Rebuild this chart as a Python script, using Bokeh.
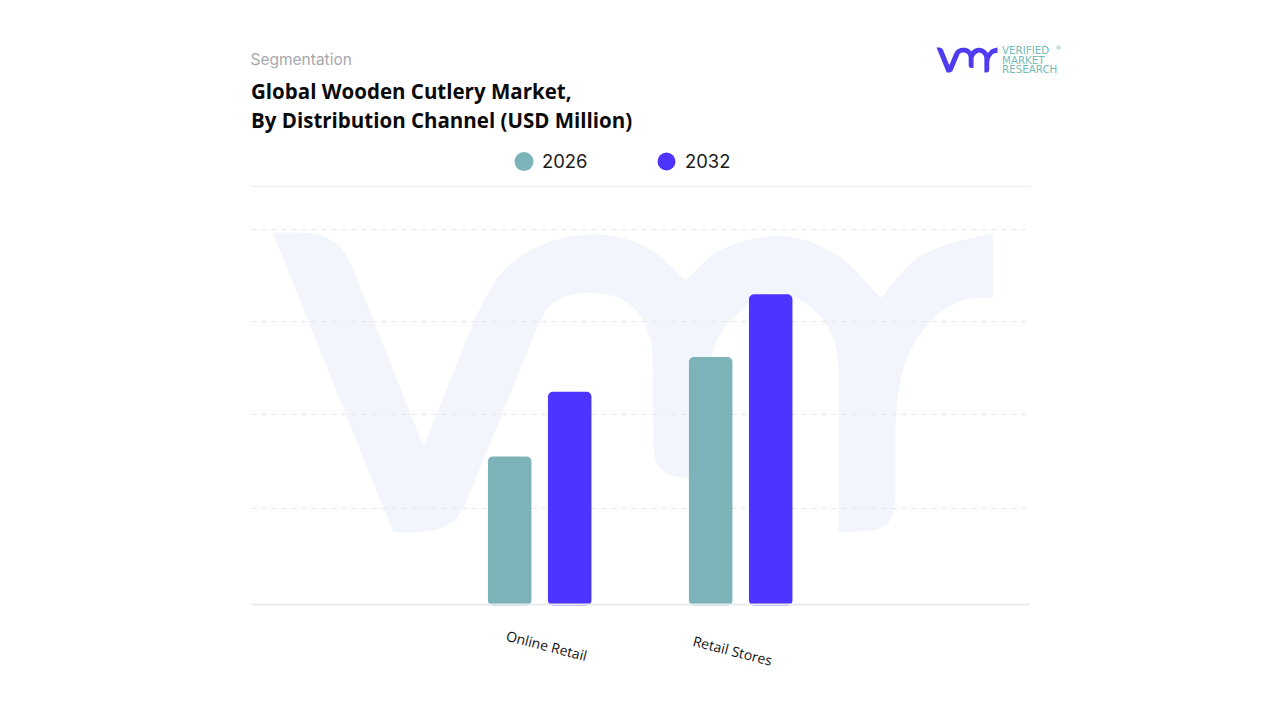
import math

from bokeh.core.properties import value
from bokeh.embed import file_html
from bokeh.resources import INLINE
from bokeh.layouts import column
from bokeh.models import ColumnDataSource, FixedTicker, LinearAxis, Range1d
from bokeh.plotting import figure

# ---- chart content
categories = ["Online Retail", "Retail Stores"]
series_names = ["2026", "2032"]
values_2026 = [158, 264]
values_2032 = [227, 331]
y_ticks = [102.4, 202.7, 301.9, 400]
heading = "Segmentation"
title_lines = ["Global Wooden Cutlery Market,", "By Distribution Channel (USD Million)"]
logo_lines = ["VERIFIED", "MARKET", "RESEARCH"]

# ---- style
TEAL = "#7bb3b8"
BLUE = "#4d35ff"
LOGO_BLUE = "#4f3bf0"
LOGO_TEAL = "#72bdb9"
WATERMARK = "#f3f5fc"
FRAME_L, FRAME_R, FRAME_T, FRAME_B = 251, 1029, 186, 604
PAGE_W, PAGE_H = 1280, 720
GROUP_0, GROUP_STEP = 539.2, 201.0
BAR_PX = 43.5
PX_PER_VALUE = 0.9375

# outline of the vmr brand mark, in its own drawing units; a doubled point is a sharp corner
BRAND_OUTLINE = [
    (272, 232), (272, 232), (317, 232), (340, 245), (350, 262), (423, 446), (423, 446),
    (477, 312), (497, 275), (523, 252), (560, 237), (593, 233), (623, 237), (645, 246),
    (663, 258), (685, 280), (685, 280), (713, 252), (743, 240), (777, 234), (810, 240),
    (843, 258), (863, 278), (880, 298), (880, 298), (913, 258), (950, 242), (993, 233),
    (993, 233), (993, 297), (993, 297), (963, 298), (937, 312), (913, 342), (900, 375),
    (895, 415), (895, 502), (890, 522), (877, 530), (838, 532), (838, 532), (838, 355),
    (830, 328), (810, 305), (787, 293), (763, 293), (737, 312), (717, 335), (710, 362),
    (710, 476), (710, 476), (680, 478), (663, 472), (653, 458), (652, 348), (650, 338),
    (640, 312), (617, 295), (583, 291), (557, 298), (543, 312), (463, 508), (453, 523),
    (427, 532), (393, 532), (393, 532),
]


def round_corners(points, radius=16, steps=6):
    out = []
    n = len(points)
    for i in range(n):
        px, py = points[i]
        ax, ay = points[i - 1]
        bx, by = points[(i + 1) % n]
        la, lb = math.hypot(ax - px, ay - py), math.hypot(bx - px, by - py)
        if la == 0 or lb == 0:
            out.append((px, py))
            continue
        da, db = min(radius, la / 2), min(radius, lb / 2)
        sx_, sy_ = px + (ax - px) * da / la, py + (ay - py) * da / la
        ex_, ey_ = px + (bx - px) * db / lb, py + (by - py) * db / lb
        for k in range(steps + 1):
            t = k / steps
            out.append(((1 - t) ** 2 * sx_ + 2 * t * (1 - t) * px + t ** 2 * ex_,
                        (1 - t) ** 2 * sy_ + 2 * t * (1 - t) * py + t ** 2 * ey_))
    return out


SMOOTH_MARK = round_corners(BRAND_OUTLINE)

# ---- header: title, legend, logo (drawn in page pixels)
HEAD_H = FRAME_T - 8
head = figure(
    width=PAGE_W, height=HEAD_H, output_backend="svg", toolbar_location=None,
    x_range=Range1d(0, PAGE_W), y_range=Range1d(HEAD_H, 0),
    x_axis_location=None, y_axis_location=None, min_border=0,
)
head.grid.visible = False
head.outline_line_color = None
head.text([250], [59], text=[heading], text_font=value("Inter"), text_font_size="15.5px",
          text_color="#a6a8ae", text_baseline="middle")
for line, y in zip(title_lines, [90.5, 119.5]):
    head.text([250.5], [y], text=[line], text_font=value("Open Sans"), text_font_style="bold",
              text_font_size="20.5px", text_color="#0a0a0a", text_baseline="middle")
for name, color, cx, tx, size in zip(series_names, [TEAL, BLUE], [523.5, 666], [541.5, 684.5], [19, 18]):
    head.scatter([cx], [161], size=size, color=color, line_color=None)
    head.text([tx], [160.5], text=[name], text_font=value("Inter"), text_font_size="18.4px",
              text_color="#1a1a1a", text_baseline="middle")
sx, sy = 61 / 721, 25 / 300
head.patch([936 + (x - 272) * sx for x, _ in SMOOTH_MARK],
           [47 + (y - 232) * sy for _, y in SMOOTH_MARK],
           color=LOGO_BLUE, line_color=None)
for line, y in zip(logo_lines, [49.5, 59, 68.5]):
    head.text([1001.5], [y], text=[line], text_font=value("DejaVu Sans"), text_font_size="10.3px",
              text_color=LOGO_TEAL, text_baseline="middle")
head.text([1055], [47], text=["®"], text_font=value("DejaVu Sans"), text_font_size="6px",
          text_color=LOGO_TEAL, text_baseline="middle")

# ---- chart
x_start = (FRAME_L - GROUP_0) / GROUP_STEP
x_end = (FRAME_R - GROUP_0) / GROUP_STEP
y_end = (FRAME_B - FRAME_T) / PX_PER_VALUE
y_start = -(PAGE_H - FRAME_B) / PX_PER_VALUE

p = figure(
    width=PAGE_W, height=PAGE_H - HEAD_H, output_backend="svg", toolbar_location=None,
    x_range=Range1d(x_start, x_end), y_range=Range1d(y_start, y_end),
    x_axis_location=None, y_axis_location=None,
    min_border_left=FRAME_L, min_border_right=PAGE_W - FRAME_R,
    min_border_top=8, min_border_bottom=0,
)
p.outline_line_color = None
p.xgrid.visible = False
p.ygrid.ticker = FixedTicker(ticks=y_ticks)
p.ygrid.grid_line_color = "#e8e8ec"
p.ygrid.grid_line_dash = [5, 5]
p.ygrid.grid_line_width = 1
p.ygrid.level = "underlay"


def to_x(px):
    return (px - GROUP_0) / GROUP_STEP


def to_y(py):
    return (FRAME_B - py) / PX_PER_VALUE


p.patch([to_x(x) for x, _ in SMOOTH_MARK], [to_y(y) for _, y in SMOOTH_MARK],
        color=WATERMARK, line_color=None, level="underlay")

p.add_layout(LinearAxis(ticker=FixedTicker(ticks=[]), major_tick_line_color=None,
                        minor_tick_line_color=None, major_label_text_color=None,
                        axis_line_color="#eeeeee", axis_line_width=1), "above")
p.add_layout(LinearAxis(ticker=FixedTicker(ticks=[]), major_tick_line_color=None,
                        minor_tick_line_color=None, major_label_text_color=None,
                        axis_line_color="#e8ebee", axis_line_width=2, fixed_location=0), "below")

positions = list(range(len(categories)))
source = ColumnDataSource(dict(
    pos=positions,
    pos_2026=[i - 0.1493 for i in positions],
    pos_2032=[i + 0.1493 for i in positions],
    v2026=values_2026,
    v2032=values_2032,
    label=categories,
    base=[0 for _ in positions],
    dx=[7, -8],
    dy=[41, 46],
))
p.vbar(x="pos_2026", top="v2026", bottom=-1, width=BAR_PX / GROUP_STEP, source=source, color=TEAL,
       line_color=None, border_radius=5)
p.vbar(x="pos_2032", top="v2032", bottom=-1, width=BAR_PX / GROUP_STEP, source=source, color=BLUE,
       line_color=None, border_radius=5)
p.text(x="pos", y="base", text="label", source=source, x_offset="dx", y_offset="dy",
       text_font=value("Open Sans"), text_font_size="14px", text_color="#111111",
       angle=-14.5, angle_units="deg", text_align="center", text_baseline="middle")

page = column(column(head), column(p), spacing=0)
open("out.html", "w").write(file_html(page, INLINE))
